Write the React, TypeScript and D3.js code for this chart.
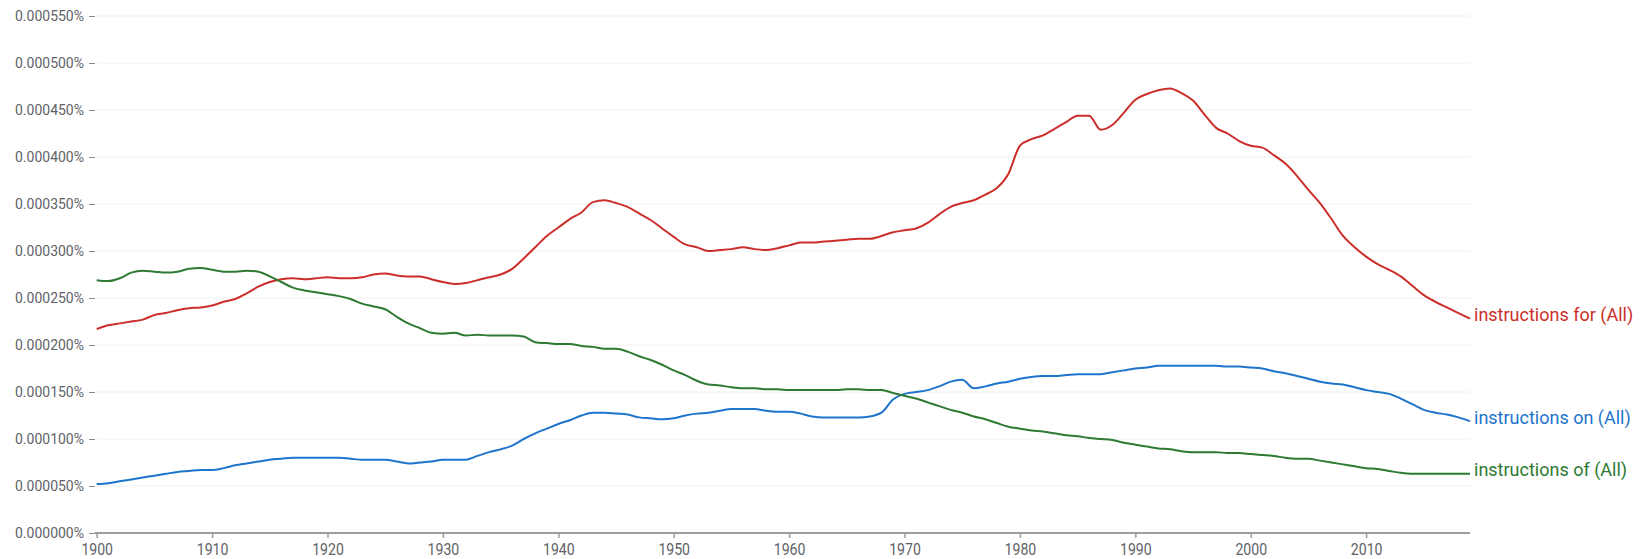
import React, { useEffect, useRef } from 'react';
import * as d3 from 'd3';

// values are in millionths of a percent (269 -> 0.000269%)
const years = d3.range(1900, 2020);

const forValues = [
  217, 221, 223, 225, 227, 232, 234, 237, 239, 240,
  242, 246, 249, 255, 262, 267, 270, 271, 270, 271,
  272, 271, 271, 272, 275, 276, 274, 273, 273, 270,
  267, 265, 266, 269, 272, 275, 281, 292, 304, 316,
  325, 334, 341, 352, 354, 351, 347, 340, 333, 324,
  315, 307, 304, 300, 301, 302, 304, 302, 301, 303,
  306, 309, 309, 310, 311, 312, 313, 313, 316, 320,
  322, 324, 330, 339, 347, 351, 354, 360, 367, 382,
  412, 419, 423, 430, 437, 444, 444, 429, 434, 447,
  461, 467, 471, 473, 468, 460, 445, 431, 425, 417,
  412, 410, 402, 393, 380, 365, 351, 334, 316, 304,
  294, 286, 280, 273, 263, 253, 246, 240, 234, 228,
];

const onValues = [
  52, 53, 55, 57, 59, 61, 63, 65, 66, 67,
  67, 69, 72, 74, 76, 78, 79, 80, 80, 80,
  80, 80, 79, 78, 78, 78, 76, 74, 75, 76,
  78, 78, 78, 82, 86, 89, 93, 100, 106, 111,
  116, 120, 125, 128, 128, 127, 126, 123, 122, 121,
  122, 125, 127, 128, 130, 132, 132, 132, 130, 129,
  129, 127, 124, 123, 123, 123, 123, 124, 128, 142,
  148, 150, 152, 156, 161, 163, 154, 156, 159, 161,
  164, 166, 167, 167, 168, 169, 169, 169, 171, 173,
  175, 176, 178, 178, 178, 178, 178, 178, 177, 177,
  176, 175, 172, 170, 167, 164, 161, 159, 158, 155,
  152, 150, 148, 143, 137, 131, 128, 126, 123, 119,
];

const ofValues = [
  269, 268, 271, 277, 279, 278, 277, 278, 281, 282,
  280, 278, 278, 279, 278, 273, 267, 261, 258, 256,
  254, 252, 249, 244, 241, 238, 230, 223, 218, 213,
  212, 213, 210, 211, 210, 210, 210, 209, 203, 202,
  201, 201, 199, 198, 196, 196, 193, 188, 184, 179,
  173, 168, 162, 158, 157, 155, 154, 154, 153, 153,
  152, 152, 152, 152, 152, 153, 153, 152, 152, 149,
  146, 143, 139, 135, 131, 128, 124, 121, 117, 113,
  111, 109, 108, 106, 104, 103, 101, 100, 99, 96,
  94, 92, 90, 89, 87, 86, 86, 86, 85, 85,
  84, 83, 82, 80, 79, 79, 77, 75, 73, 71,
  69, 68, 66, 64, 63, 63, 63, 63, 63, 63,
];

const seriesNames = ['instructions for (All)', 'instructions on (All)', 'instructions of (All)'];
const seriesColors = ['#cc2f2b', '#1f74cc', '#2e7a32'];
const yTicks = d3.range(0, 551, 50);
const xTicks = d3.range(1900, 2011, 10);

const App = () => {
  const ref = useRef<SVGSVGElement>(null);

  useEffect(() => {
    document.body.style.margin = '0';
    const svg = d3.select(ref.current);
    svg.selectAll('*').remove();

    const x = d3.scaleLinear().domain([1900, 2019]).range([96.7, 1470]);
    const y = d3.scaleLinear().domain([0, 550]).range([533, 16]);

    // horizontal grid
    svg.append('g')
      .selectAll('line')
      .data(yTicks.slice(1))
      .enter().append('line')
      .attr('x1', x(1900)).attr('x2', x(2019))
      .attr('y1', d => y(d)).attr('y2', d => y(d))
      .attr('stroke', '#f0f0f0')
      .attr('stroke-width', 1);

    // y axis: ticks and labels only
    const yAxis = svg.append('g')
      .attr('transform', `translate(${x(1900) - 1.7}, 0)`)
      .call(d3.axisLeft(y)
        .tickValues(yTicks)
        .tickSize(6)
        .tickPadding(5)
        .tickFormat(d => (Number(d) / 1e6).toFixed(6) + '%'));
    yAxis.select('.domain').remove();
    yAxis.selectAll('line').attr('stroke', '#8a8a8a');
    yAxis.selectAll('text')
      .attr('fill', '#5f6368')
      .style('font-family', 'Roboto, sans-serif')
      .style('font-size', '14px');

    // x axis
    const xAxis = svg.append('g')
      .attr('transform', `translate(0, ${y(0)})`)
      .call(d3.axisBottom(x)
        .tickValues(xTicks)
        .tickSize(5)
        .tickPadding(4)
        .tickFormat(d3.format('d')));
    xAxis.select('.domain')
      .attr('d', `M${x(1900) - 2},0H${x(2019)}`)
      .attr('stroke', '#9e9e9e')
      .attr('stroke-width', 2);
    xAxis.selectAll('line').attr('stroke', '#9e9e9e').attr('stroke-width', 1.5);
    // labels sit low, with a narrow look
    xAxis.selectAll('text')
      .attr('fill', '#5f6368')
      .attr('y', 0)
      .attr('dy', 22)
      .style('font-family', 'Roboto, sans-serif')
      .style('font-size', '16px')
      .attr('transform', 'scale(0.88,1)');

    // lines
    const line = d3.line<number>()
      .x((_, i) => x(years[i]))
      .y(d => y(d))
      .curve(d3.curveMonotoneX);

    [forValues, onValues, ofValues].forEach((vals, i) => {
      svg.append('path')
        .datum(vals)
        .attr('fill', 'none')
        .attr('stroke', seriesColors[i])
        .attr('stroke-width', 2)
        .attr('d', line);

      svg.append('text')
        .attr('x', x(2019) + 4)
        .attr('y', y(vals[vals.length - 1]) - 4)
        .attr('dominant-baseline', 'central')
        .attr('fill', seriesColors[i])
        .style('font-family', 'Roboto, sans-serif')
        .style('font-size', '18px')
        .text(seriesNames[i]);
    });
  }, []);

  return <svg ref={ref} width={1641} height={559} style={{ display: 'block' }} />;
};

export default App;
